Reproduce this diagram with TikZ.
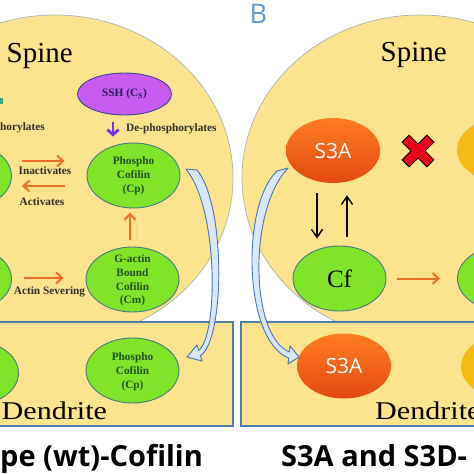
\documentclass[tikz,border=0pt]{standalone}
\usepackage{fontspec}
\setmainfont{Liberation Serif}
\newfontfamily\osans{Open Sans}
\usetikzlibrary{shapes.geometric,arrows.meta}

\definecolor{spineY}{RGB}{252,227,142}
\definecolor{spineEdge}{RGB}{165,180,175}
\definecolor{boxEdge}{RGB}{80,125,175}
\definecolor{limeG}{RGB}{128,228,40}
\definecolor{limeEdge}{RGB}{70,120,135}
\definecolor{purpF}{RGB}{200,92,240}
\definecolor{purpE}{RGB}{60,70,150}
\definecolor{purpA}{RGB}{120,50,225}
\definecolor{orangeA}{RGB}{238,112,40}
\definecolor{orTop}{RGB}{255,125,36}
\definecolor{orBot}{RGB}{228,72,16}
\definecolor{goldC}{RGB}{246,186,20}
\definecolor{txtDark}{RGB}{50,45,40}
\definecolor{txtGreen}{RGB}{35,80,35}
\definecolor{txtPurp}{RGB}{40,25,80}
\definecolor{arrBlue}{RGB}{70,115,185}
\definecolor{arrFill}{RGB}{218,232,246}
\definecolor{labelB}{RGB}{91,155,213}
\definecolor{xred}{RGB}{235,0,25}
\definecolor{tickG}{RGB}{60,165,125}

\tikzset{
  ell/.style={ellipse, inner sep=0pt, minimum width=93pt, minimum height=65pt},
  greenE/.style={ell, fill=limeG, draw=limeEdge, line width=0.9pt},
  gtext/.style={inner sep=0pt, align=center, text=txtGreen, font=\bfseries\fontsize{11.3}{13.8}\selectfont},
  s3aE/.style={ell, minimum width=94pt, top color=orTop, bottom color=orBot, text=white, font=\osans\fontsize{21}{24}\selectfont},
  goldE/.style={ell, minimum width=94pt, fill=goldC},
  lbl/.style={inner sep=0pt, text=txtDark, font=\bfseries\fontsize{11.3}{13}\selectfont},
  bigserif/.style={inner sep=0pt, text=black, font=\fontsize{29}{32}\selectfont},
  title/.style={inner sep=0pt, text=black, font=\osans\bfseries\fontsize{29}{32}\selectfont},
  oarr/.style={draw=orangeA, line width=2pt, -{Straight Barb[length=6pt,width=11pt]}},
  barr/.style={draw=black, line width=1.4pt, -{Straight Barb[length=8pt,width=11pt]}},
  parr/.style={draw=purpA, line width=2.8pt, -{Straight Barb[length=5pt,width=11pt]}},
  blockarr/.style={draw=arrBlue, line width=0.9pt, fill=arrFill, line join=round},
  spineE/.style={fill=spineY, draw=spineEdge, line width=0.7pt},
  dbox/.style={fill=spineY, draw=boxEdge, line width=1.2pt}
}

\begin{document}
\begin{tikzpicture}[x=1pt, y=-1pt]
\useasboundingbox (0,0) rectangle (474,474);
\clip (0,0) rectangle (474,474);
\fill[white] (0,0) rectangle (474,474);

% spines
\path[spineE] (55,178) ellipse [x radius=178, y radius=163];
\path[spineE] (420,178) ellipse [x radius=178, y radius=163];
% dendrite boxes
\path[dbox] (-5,322) rectangle (233,426);
\path[dbox] (241,322) rectangle (480,426);

% small green tip at left edge
\fill[tickG] (0,98) rectangle (3,104);

% ---------- left panel ----------
\node[bigserif, anchor=base west] (spL) at (6.5,62) {Spine};
\node[lbl, anchor=west] (phosL) at (0,128) {horylates};

\node[ell, minimum width=94pt, minimum height=42pt, fill=purpF, draw=purpE, line width=0.9pt,
      text=txtPurp, font=\bfseries\fontsize{11.3}{13}\selectfont] (ssh) at (124.5,94) {SSH (C\textsubscript{S})};
\node[lbl, anchor=west] (deph) at (126,129) {De-phosphorylates};

\node[greenE] (cp1) at (133.5,175.5) {};
\node[gtext] (cp1t) at (cp1) {Phospho\\Cofilin\\(Cp)};
\node[greenE] (cm) at (132.5,279.5) {};
\node[gtext] (cmt) at ([yshift=-1pt]cm) {G-actin\\Bound\\Cofilin\\(Cm)};
\node[greenE] (cpd) at (132.5,370.5) {};
\node[gtext] (cpdt) at ([yshift=-1pt]cpd) {Phospho\\Cofilin\\(Cp)};

\node[greenE] (lp1) at (-35,176) {};
\node[greenE] (lp2) at (-35,279) {};
\node[greenE] (lp3) at (-28,373) {};

\draw[parr] ([xshift=-11.5pt,yshift=-7pt]ssh.south) -- ([xshift=-20.5pt,yshift=6pt]cp1.north);
\draw[oarr] ([xshift=10pt,yshift=15pt]lp1.east) -- ([xshift=-22pt,yshift=14.5pt]cp1.west);
\draw[oarr] ([xshift=-22pt,yshift=-10.5pt]cp1.west) -- ([xshift=10pt,yshift=-10pt]lp1.east);
\node[lbl] (inact) at (45,171) {Inactivates};
\node[lbl] (act) at (42,202) {Activates};
\draw[oarr] ([xshift=12pt,yshift=1pt]lp2.east) -- ([xshift=-22pt,yshift=1.5pt]cm.west);
\node[lbl] (sev) at (49.5,292) {Actin Severing};
\draw[oarr] ([xshift=-2.5pt,yshift=7pt]cm.north) -- ([xshift=-3.5pt,yshift=-4pt]cp1.south);

\node[bigserif, anchor=base west, font=\fontsize{25.5}{28}\selectfont, xscale=1.18] (denL) at (1.5,419) {Dendrite};
\node[title, anchor=base west] (titL) at (0,466) {pe (wt)-Cofilin};

% ---------- right panel ----------
\node[anchor=base west, inner sep=0pt, text=labelB, font=\osans\fontsize{27}{30}\selectfont] (labB) at (249.5,23) {B};
\node[bigserif, anchor=base west] (spR) at (380.5,61.5) {Spine};

\node[s3aE] (s3a1) at (333,150.5) {S3A};
\node[goldE] (gs1) at (504,150) {};
\begin{scope}[shift={(418,151)}, rotate=45]
  \path[fill=xred, draw=black, line width=0.8pt]
    (-5,-17.5) -- (5,-17.5) -- (5,-5) -- (17.5,-5) -- (17.5,5) -- (5,5) -- (5,17.5)
    -- (-5,17.5) -- (-5,5) -- (-17.5,5) -- (-17.5,-5) -- (-5,-5) -- cycle;
\end{scope}

\node[greenE] (cf) at (339.5,278.5) {};
\node[inner sep=0pt, font=\fontsize{25}{28}\selectfont] (cft) at (cf) {Cf};
\node[greenE] (rg2) at (504,278.5) {};
\draw[barr] ([xshift=-16pt,yshift=-10pt]s3a1.south) -- ([xshift=-22.5pt,yshift=7pt]cf.north);
\draw[barr] ([xshift=7.5pt,yshift=9pt]cf.north) -- ([xshift=14pt,yshift=-12pt]s3a1.south);
\draw[oarr] ([xshift=11pt]cf.east) -- ([xshift=-17pt]rg2.west);

\node[s3aE] (s3a2) at (344,366) {S3A};
\node[goldE] (gs2) at (508,366.5) {};
\node[bigserif, anchor=base west, font=\fontsize{25.5}{28}\selectfont, xscale=1.18] (denR) at (375,419) {Dendrite};
\node[title, anchor=base west] (titR) at (281,466) {S3A and S3D-};

% ---------- curved block arrows (spine -> dendrite) ----------
\path[blockarr] (186,169) -- (197,170)
  .. controls (226,205) and (225,340) .. (200.35,355.7)
  -- (202,361) -- (187,357) -- (197,345) -- (198.65,350.3)
  .. controls (218,336) and (219,210) .. (186,169) -- cycle;
\path[blockarr] (288,168) -- (277,171)
  .. controls (241,205) and (243,340) .. (288.66,358.06)
  -- (288,364) -- (299,357) -- (290,346) -- (289.34,351.94)
  .. controls (250,336) and (248,210) .. (288,168) -- cycle;
\end{tikzpicture}
\end{document}
